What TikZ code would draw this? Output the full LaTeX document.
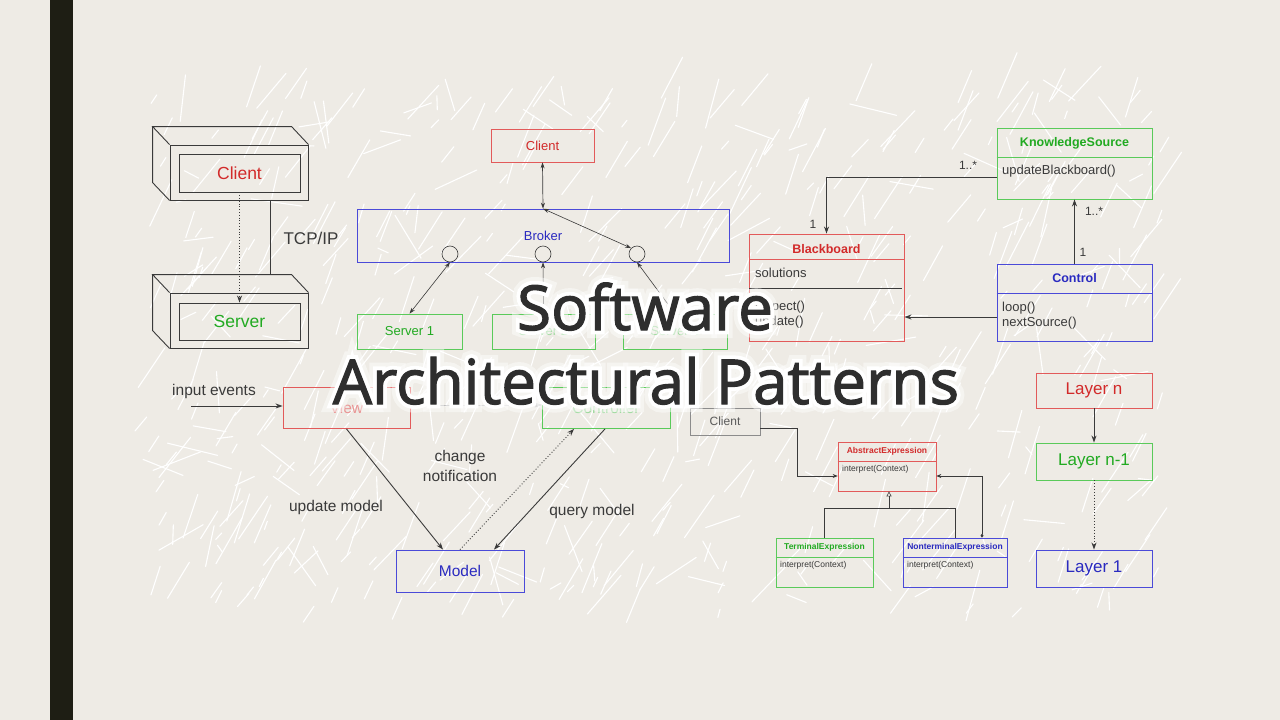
\documentclass[tikz,border=0pt]{standalone}
\usepackage{fontspec}
\setmainfont{Liberation Sans}
\newfontfamily\titlefont{Open Sans}[FakeBold=1.8]
\newfontfamily\titlehaloA{Open Sans}[FakeBold=26]
\newfontfamily\titlehaloB{Open Sans}[FakeBold=14]
\usetikzlibrary{arrows.meta,calc}
\definecolor{bg}{HTML}{EEEBE5}
\definecolor{barc}{HTML}{1E1E14}
\definecolor{cred}{HTML}{D22A2A}
\definecolor{bred}{HTML}{E25A5A}
\definecolor{cgreen}{HTML}{22AA22}
\definecolor{bgreen}{HTML}{5ACA5A}
\definecolor{cblue}{HTML}{2A2AC0}
\definecolor{bblue}{HTML}{4A4AD8}
\definecolor{ln}{HTML}{3A3A3A}
\definecolor{ttl}{HTML}{2E2E2E}
\begin{document}
\begin{tikzpicture}[x=1pt,y=-1pt,
  box/.style={draw, inner sep=0pt, line width=0.9pt, align=center},
  thinbox/.style={draw, inner sep=0pt, line width=0.7pt},
  lk/.style={draw=ln, line width=0.8pt},
  arr/.style={-{Stealth[length=7pt,width=5pt]}},
  sarr/.style={-{Stealth[length=5pt,width=4pt]}},
  barr/.style={{Stealth[length=6pt,width=4pt]}-{Stealth[length=6pt,width=4pt]}},
  f18/.style={font=\fontsize{17.5}{19}\selectfont},
  f17/.style={font=\fontsize{17}{19}\selectfont},
  f16/.style={font=\fontsize{15.5}{18}\selectfont},
  f13/.style={font=\fontsize{13}{15}\selectfont},
  f12/.style={font=\fontsize{12}{14}\selectfont},
  f9/.style={font=\fontsize{8.5}{10}\selectfont},
  hd/.style={font=\fontsize{12.5}{14}\selectfont\bfseries},
  hds/.style={font=\fontsize{8.5}{10}\selectfont\bfseries},
  lbl/.style={text=ln, inner sep=0pt},
  haloA/.style={anchor=base, text=white, opacity=0.45, font=\titlehaloA\fontsize{62}{62}\selectfont},
  haloB/.style={anchor=base, text=white, font=\titlehaloB\fontsize{62}{62}\selectfont},
  title/.style={anchor=base, text=ttl, font=\titlefont\fontsize{62}{62}\selectfont}
]
\fill[bg] (0,0) rectangle (1280,720);
\useasboundingbox (0,0) rectangle (1280,720);
\fill[barc] (50,0) rectangle (73,720);

% scratch texture
\pgfmathsetseed{4242}
\foreach \i in {1,...,600}{
  \pgfmathsetmacro\sx{132+1030*rnd}
  \pgfmathsetmacro\sy{98+525*rnd}
  \pgfmathsetmacro\sl{8+45*rnd}
  \pgfmathsetmacro\sp{rnd}
  \pgfmathsetmacro\sa{\sp<0.7 ? -(45+30*rnd) : -(rnd*180)}
  \draw[white, line width=1.1pt, line cap=round] (\sx,\sy) -- ++(\sa:\sl);
}

% ---------- client / server ----------
\node[box, draw=ln, minimum width=138, minimum height=55] (cliout) at (239,172.5) {};
\draw[ln, line width=0.9pt] (cliout.north west) -- ++(-17,-18) coordinate (cb1) -- ++(139,0) -- (cliout.north east);
\draw[ln, line width=0.9pt] (cb1) -- ++(0,56) -- (cliout.south west);
\node[box, draw=ln, minimum width=121, minimum height=38, text=cred, f18] (ccli) at (239.5,173) {Client};

\node[box, draw=ln, minimum width=138, minimum height=55] (srvout) at (239,320.5) {};
\draw[ln, line width=0.9pt] (srvout.north west) -- ++(-17,-18) coordinate (sb1) -- ++(139,0) -- (srvout.north east);
\draw[ln, line width=0.9pt] (sb1) -- ++(0,56) -- (srvout.south west);
\node[box, draw=ln, minimum width=121, minimum height=37, text=cgreen, f18] (csrv) at (239.5,321.5) {Server};

\draw[lk, dotted, line width=1pt, arr] (ccli.south) -- (csrv.north);
\coordinate (tb) at (270,275);
\draw[lk, line width=0.9pt] (cliout.south -| tb) -- (tb);
\node[lbl, f17] (tcp) at (311,238) {TCP/IP};

% ---------- broker ----------
\node[thinbox, draw=bred, minimum width=103, minimum height=33, text=cred, f13] (bcli) at (542.5,145.5) {Client};
\node[thinbox, draw=bblue, minimum width=372, minimum height=53, text=cblue, f13] (broker) at (543,235.5) {Broker};
\node[circle, draw=ln, line width=0.6pt, minimum size=16, inner sep=0pt] (c1) at (450,254) {};
\node[circle, draw=ln, line width=0.6pt, minimum size=16, inner sep=0pt] (c2) at (543,254) {};
\node[circle, draw=ln, line width=0.6pt, minimum size=16, inner sep=0pt] (c3) at (637,254) {};
\node[thinbox, draw=bgreen, minimum width=105, minimum height=35, text=cgreen, f13] (s1) at (409.5,331.5) {Server 1};
\node[thinbox, draw=bgreen, minimum width=103, minimum height=35, text=cgreen!45, f13] (s2) at (543.5,331.5) {Server 2};
\node[thinbox, draw=bgreen, minimum width=104, minimum height=35, text=cgreen!45, f13] (s3) at (675,331.5) {Server 3};
\draw[lk, line width=0.7pt, barr] (bcli.south) -- (broker.north);
\draw[lk, line width=0.6pt, barr] (broker.north) -- (c3.135);
\draw[lk, line width=0.6pt, barr] (c1.south) -- (s1.north);
\draw[lk, line width=0.6pt, barr] (c2.south) -- (s2.north);
\draw[lk, line width=0.6pt, barr] (c3.south) -- (s3.north);

% ---------- blackboard ----------
\node[box, draw=bgreen, minimum width=155, minimum height=71] (ks) at (1074.5,163.5) {};
\draw[bgreen, line width=0.9pt] (ks.west |- 0,157) -- (ks.east |- 0,157);
\node[hd, text=cgreen] (kst) at (1074.5,143) {KnowledgeSource};
\node[anchor=west, f13, text=ln, inner sep=0pt] (ksm) at (1002,171) {updateBlackboard()};

\node[box, draw=bred, minimum width=155, minimum height=107] (bb) at (826.5,287.5) {};
\draw[bred, line width=0.9pt] (bb.west |- 0,259) -- (bb.east |- 0,259);
\draw[ln, line width=0.9pt] (bb.west |- 0,288) -- ([xshift=-2pt]bb.east |- 0,288);
\node[hd, text=cred] (bbt) at (826.5,249) {Blackboard};
\node[anchor=west, f13, text=ln, inner sep=0pt] (bbs) at (755,273) {solutions};
\node[anchor=west, f13, text=ln, inner sep=0pt] (bbi) at (755,307) {inspect()};
\node[anchor=west, f13, text=ln, inner sep=0pt] (bbu) at (755,322) {update()};

\node[box, draw=bblue, minimum width=155, minimum height=77] (ctl) at (1074.5,302.5) {};
\draw[bblue, line width=0.9pt] (ctl.west |- 0,293) -- (ctl.east |- 0,293);
\node[hd, text=cblue] (ctlt) at (1074.5,278) {Control};
\node[anchor=west, f13, text=ln, inner sep=0pt] (ctl1) at (1002,308) {loop()};
\node[anchor=west, f13, text=ln, inner sep=0pt] (ctl2) at (1002,323) {nextSource()};

\draw[lk, line width=0.9pt, arr] (ks.west |- 0,177) -| (bb.north);
\draw[lk, line width=0.9pt, arr] (ctl.north) -- (ks.south);
\draw[lk, line width=0.9pt, arr] (ctl.west |- 0,317) -- (bb.east |- 0,317);
\node[lbl, f12] (m1) at (968,165) {1..*};
\node[lbl, f12] (m2) at (813,224) {1};
\node[lbl, f12] (m3) at (1094,211) {1..*};
\node[lbl, f12] (m4) at (1083,252) {1};

% ---------- MVC ----------
\node[box, draw=bred, minimum width=127, minimum height=41, text=cred!50, f16] (view) at (346.5,408) {View};
\node[box, draw=bgreen, minimum width=128, minimum height=41, text=cgreen!45, f16] (ctrl) at (606,408) {Controller};
\node[box, draw=bblue, minimum width=128, minimum height=42, text=cblue, f16] (model) at (460,571) {Model};
\coordinate (inp) at (191,406);
\draw[lk, line width=0.9pt, arr] (inp) -- (view.west |- inp);
\node[lbl, f16] (inpl) at (214,391) {input events};
\draw[draw=ln!35, line width=0.8pt, arr] (view.east |- 0,405) -- (ctrl.west |- 0,405);
\draw[lk, line width=0.9pt, arr] (view.south) -- ([xshift=-17pt]model.north);
\draw[lk, line width=0.9pt, arr] ([xshift=-1pt]ctrl.south) -- ([xshift=34pt]model.north);
\draw[lk, line width=0.9pt, dotted, arr] (model.north) -- ([xshift=-32pt]ctrl.south);
\node[lbl, f16, align=center] (chg) at (460,466) {change\\[2pt]notification};
\node[lbl, f16] (upd) at (336,507) {update model};
\node[lbl, f16] (qry) at (592,511) {query model};

% ---------- interpreter ----------
\node[thinbox, draw=black!45, minimum width=70, minimum height=27, text=black!65, f12] (icli) at (725,421.5) {Client};
\node[thinbox, draw=bred, minimum width=98, minimum height=49] (ae) at (887,466.5) {};
\draw[bred, line width=0.7pt] (ae.west |- 0,461) -- (ae.east |- 0,461);
\node[hds, text=cred] (aet) at (887,451) {AbstractExpression};
\node[anchor=west, f9, text=ln, inner sep=0pt] (aem) at (842,469) {interpret(Context)};

\node[thinbox, draw=bgreen, minimum width=97, minimum height=49] (te) at (824.5,562.5) {};
\draw[bgreen, line width=0.7pt] (te.west |- 0,557) -- (te.east |- 0,557);
\node[hds, text=cgreen] (tet) at (824.5,547) {TerminalExpression};
\node[anchor=west, f9, text=ln, inner sep=0pt] (tem) at (780,565) {interpret(Context)};

\node[thinbox, draw=bblue, minimum width=104, minimum height=49] (ne) at (955,562.5) {};
\draw[bblue, line width=0.7pt] (ne.west |- 0,557) -- (ne.east |- 0,557);
\node[hds, text=cblue] (net) at (955,547) {NonterminalExpression};
\node[anchor=west, f9, text=ln, inner sep=0pt] (nem) at (907,565) {interpret(Context)};

\coordinate (ib) at (797,476);
\draw[lk, line width=0.6pt, sarr] (icli.east |- 0,428) -| (ib) -- (ae.west |- ib);
\draw[lk, line width=0.6pt, {Diamond[length=4pt,width=3pt]}-{Stealth[length=5pt,width=4pt]}] (ne.north -| 982,0) |- (ae.east |- ib);
\coordinate (inh) at (889,508);
\draw[lk, line width=0.6pt, -{Triangle[open,length=5pt,width=5pt]}] (inh) -- (inh |- ae.south);
\draw[lk, line width=0.6pt] (te.north) |- (ne.north |- inh) -- (ne.north);

% ---------- layers ----------
\node[box, draw=bred, minimum width=116, minimum height=35, text=cred, f17] (lyn) at (1094,390.5) {Layer n};
\node[box, draw=bgreen, minimum width=116, minimum height=37, text=cgreen, f17] (lyn1) at (1094,461.5) {Layer n-1};
\node[box, draw=bblue, minimum width=116, minimum height=37, text=cblue, f17] (ly1) at (1094,568.5) {Layer 1};
\draw[lk, line width=0.9pt, arr] (lyn.south) -- (lyn1.north);
\draw[lk, line width=0.9pt, dotted, arr] (lyn1.south) -- (ly1.north);

% ---------- title ----------
\node[haloA] (h1a) at (645,330) {Software};
\node[haloB] (h1b) at (645,330) {Software};
\node[title] (ttl1) at (645,330) {Software};
\node[haloA] (h2a) at (646,404) {Architectural Patterns};
\node[haloB] (h2b) at (646,404) {Architectural Patterns};
\node[title] (ttl2) at (646,404) {Architectural Patterns};
\end{tikzpicture}
\end{document}
